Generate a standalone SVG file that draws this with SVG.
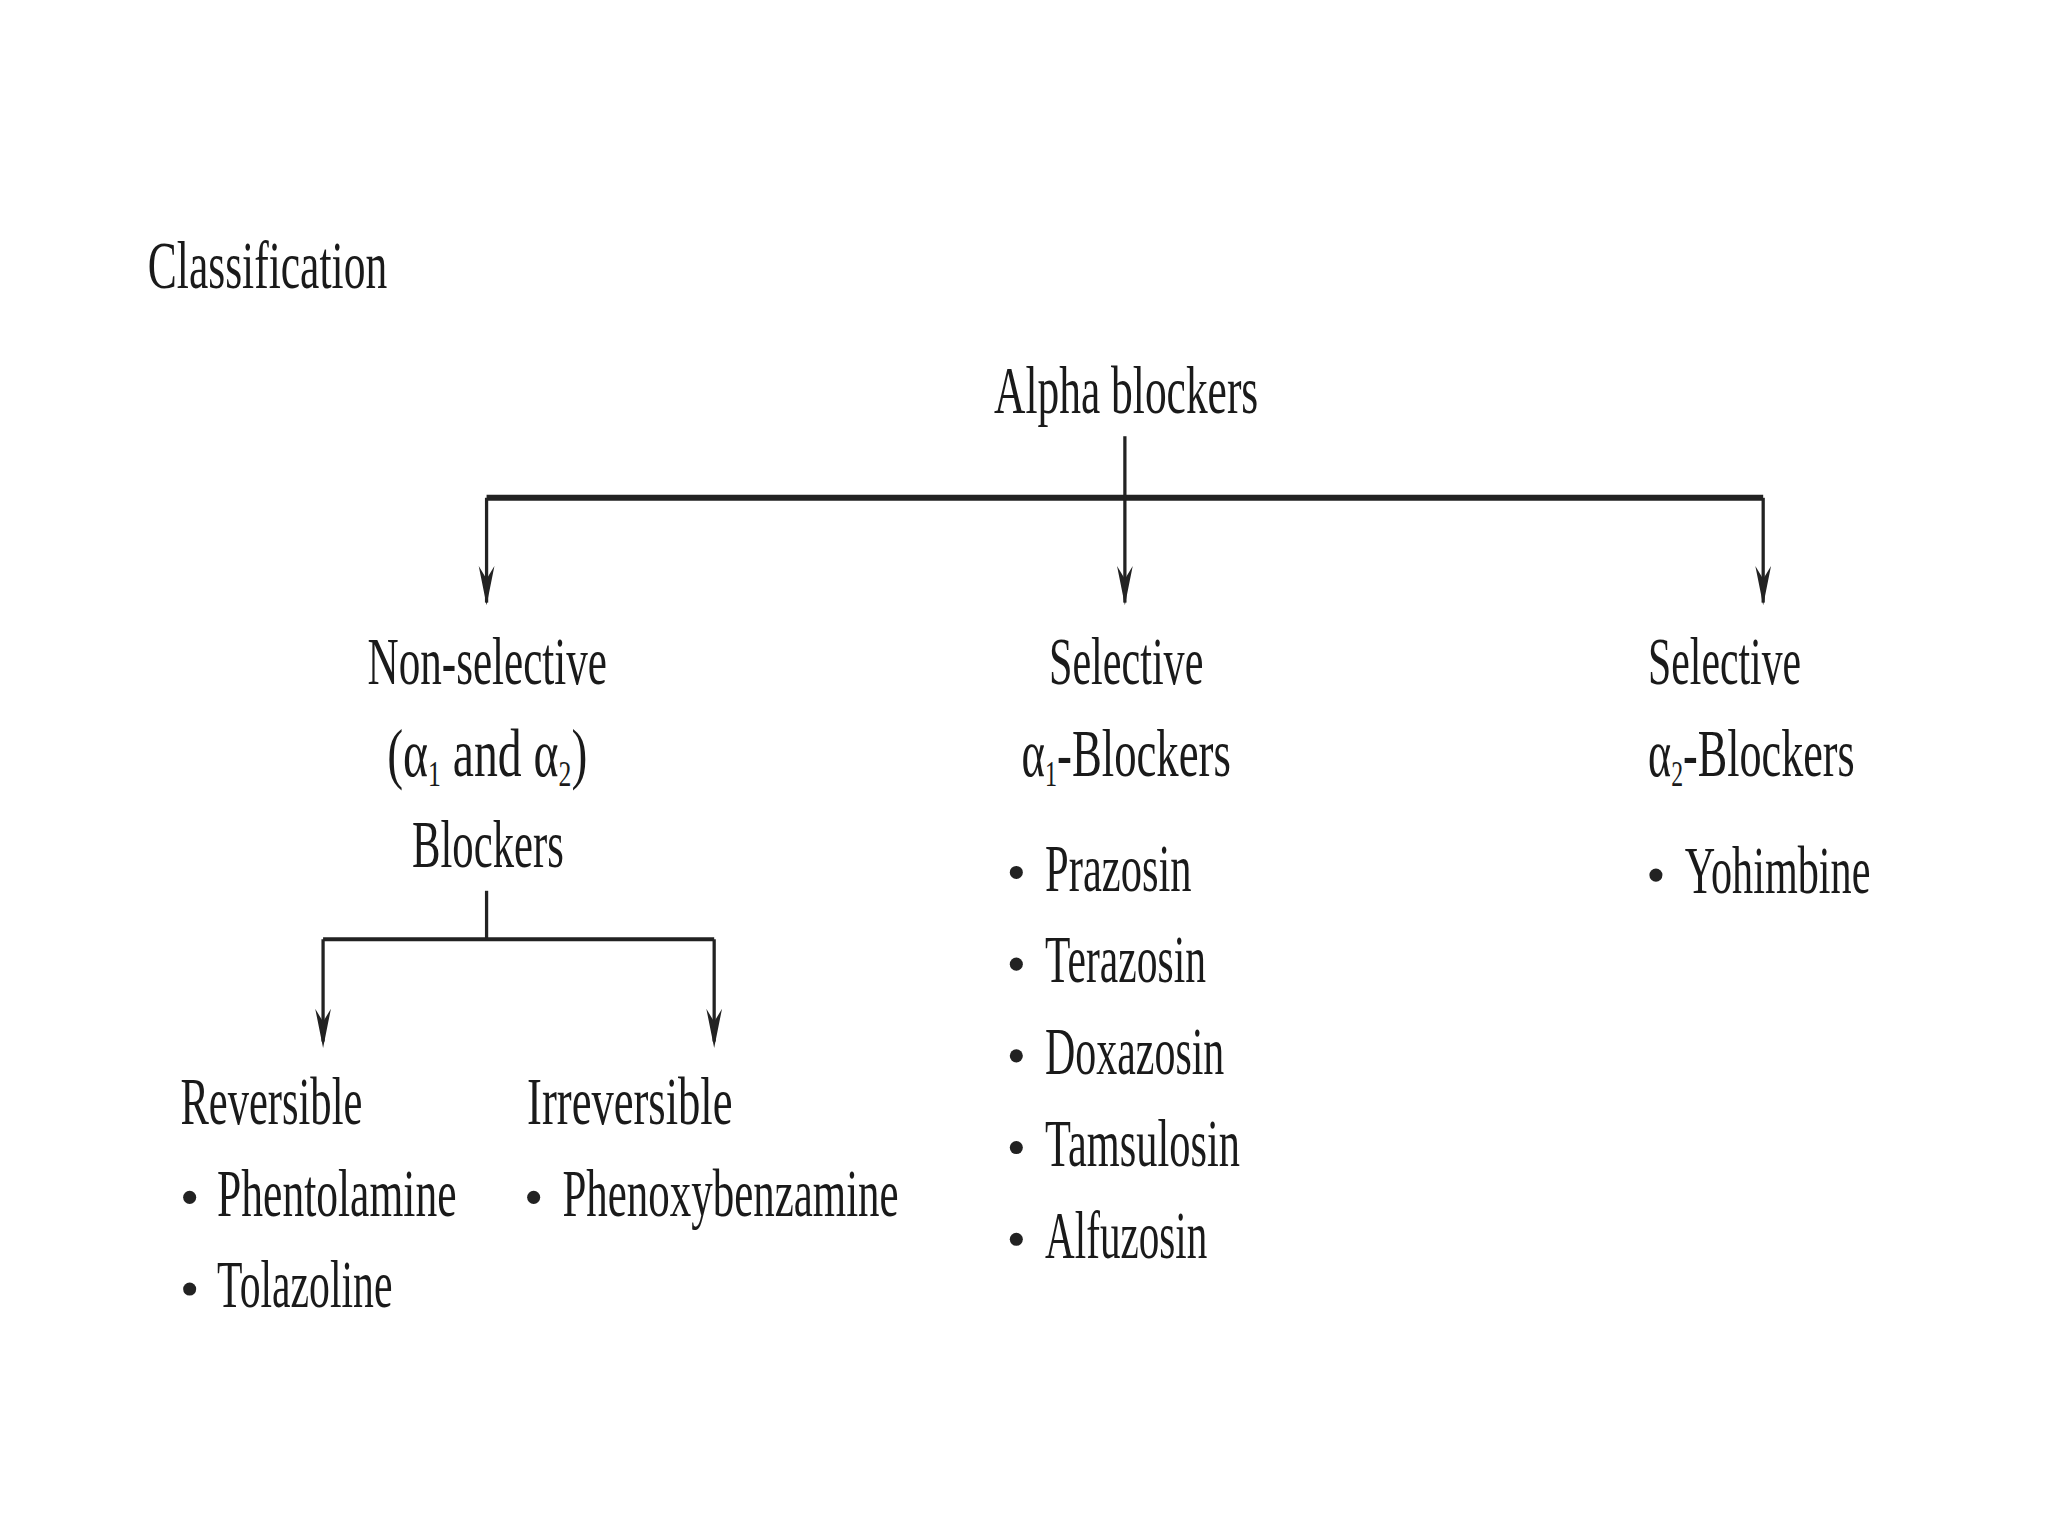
<svg xmlns="http://www.w3.org/2000/svg" width="2048" height="1536" viewBox="0 0 2048 1536">
<style>
text{font-family:"Liberation Serif","DejaVu Serif",serif;fill:#1a1a1a;font-size:52px}
.h{font-weight:bold}
.c{stroke:#222;stroke-width:2.5;fill:none}
.t{stroke:#222;stroke-width:4.5;fill:none}
</style>
<rect width="2048" height="1536" fill="#fff"/>
<g transform="scale(1.308,1.31)">
<g id="title"><text x="113" y="220" textLength="183" lengthAdjust="spacingAndGlyphs">Classification</text></g>
<g id="root"><text x="760" y="315" textLength="202" lengthAdjust="spacingAndGlyphs">Alpha blockers</text></g>
<g id="connectors">
<path class="t" d="M372,380 H1348"/>
<path class="c" d="M860,333 V460"/>
<path class="c" d="M372,380 V460"/>
<path class="c" d="M1348,380 V460"/>
<path d="M860,462 l-6,-30 l6,10 l6,-10 z M372,462 l-6,-30 l6,10 l6,-10 z M1348,462 l-6,-30 l6,10 l6,-10 z M247,800 l-6,-30 l6,10 l6,-10 z M546,800 l-6,-30 l6,10 l6,-10 z" fill="#222"/>
<path class="c" d="M372,680 V717"/>
<path class="t" style="stroke-width:3" d="M247,717 H546"/>
<path class="c" d="M247,717 V795 M546,717 V795"/>
</g>
<g id="nonselective">
<text x="281" y="522" textLength="183" lengthAdjust="spacingAndGlyphs">Non-selective</text>
<text x="296" y="592" textLength="153" lengthAdjust="spacingAndGlyphs">(α<tspan font-size="28" dy="8">1</tspan><tspan dy="-8"> and α</tspan><tspan font-size="28" dy="8">2</tspan><tspan dy="-8">)</tspan></text>
<text x="315" y="662" textLength="116" lengthAdjust="spacingAndGlyphs">Blockers</text>
</g>
<g id="reversible">
<text x="138" y="858" textLength="139" lengthAdjust="spacingAndGlyphs">Reversible</text>
<circle cx="145" cy="914" r="5" fill="#222"/>
<text x="166" y="928" textLength="183" lengthAdjust="spacingAndGlyphs">Phentolamine</text>
<circle cx="145" cy="984" r="5" fill="#222"/>
<text x="166" y="998" textLength="134" lengthAdjust="spacingAndGlyphs">Tolazoline</text>
</g>
<g id="irreversible">
<text x="403" y="858" textLength="157" lengthAdjust="spacingAndGlyphs">Irreversible</text>
<circle cx="408" cy="914" r="5" fill="#222"/>
<text x="430" y="928" textLength="257" lengthAdjust="spacingAndGlyphs">Phenoxybenzamine</text>
</g>
<g id="alpha1">
<text x="802" y="522" textLength="118" lengthAdjust="spacingAndGlyphs">Selective</text>
<text x="781" y="592" textLength="160" lengthAdjust="spacingAndGlyphs">α<tspan font-size="28" dy="8">1</tspan><tspan dy="-8">-Blockers</tspan></text>
<circle cx="777" cy="666" r="5" fill="#222"/><text x="799" y="680" textLength="112" lengthAdjust="spacingAndGlyphs">Prazosin</text>
<circle cx="777" cy="736" r="5" fill="#222"/><text x="799" y="750" textLength="123" lengthAdjust="spacingAndGlyphs">Terazosin</text>
<circle cx="777" cy="806" r="5" fill="#222"/><text x="799" y="820" textLength="137" lengthAdjust="spacingAndGlyphs">Doxazosin</text>
<circle cx="777" cy="876" r="5" fill="#222"/><text x="799" y="890" textLength="149" lengthAdjust="spacingAndGlyphs">Tamsulosin</text>
<circle cx="777" cy="946" r="5" fill="#222"/><text x="799" y="960" textLength="124" lengthAdjust="spacingAndGlyphs">Alfuzosin</text>
</g>
<g id="alpha2">
<text x="1260" y="522" textLength="117" lengthAdjust="spacingAndGlyphs">Selective</text>
<text x="1260" y="592" textLength="158" lengthAdjust="spacingAndGlyphs">α<tspan font-size="28" dy="8">2</tspan><tspan dy="-8">-Blockers</tspan></text>
<circle cx="1266" cy="668" r="5" fill="#222"/><text x="1288" y="682" textLength="142" lengthAdjust="spacingAndGlyphs">Yohimbine</text>
</g>
</g>
</svg>
